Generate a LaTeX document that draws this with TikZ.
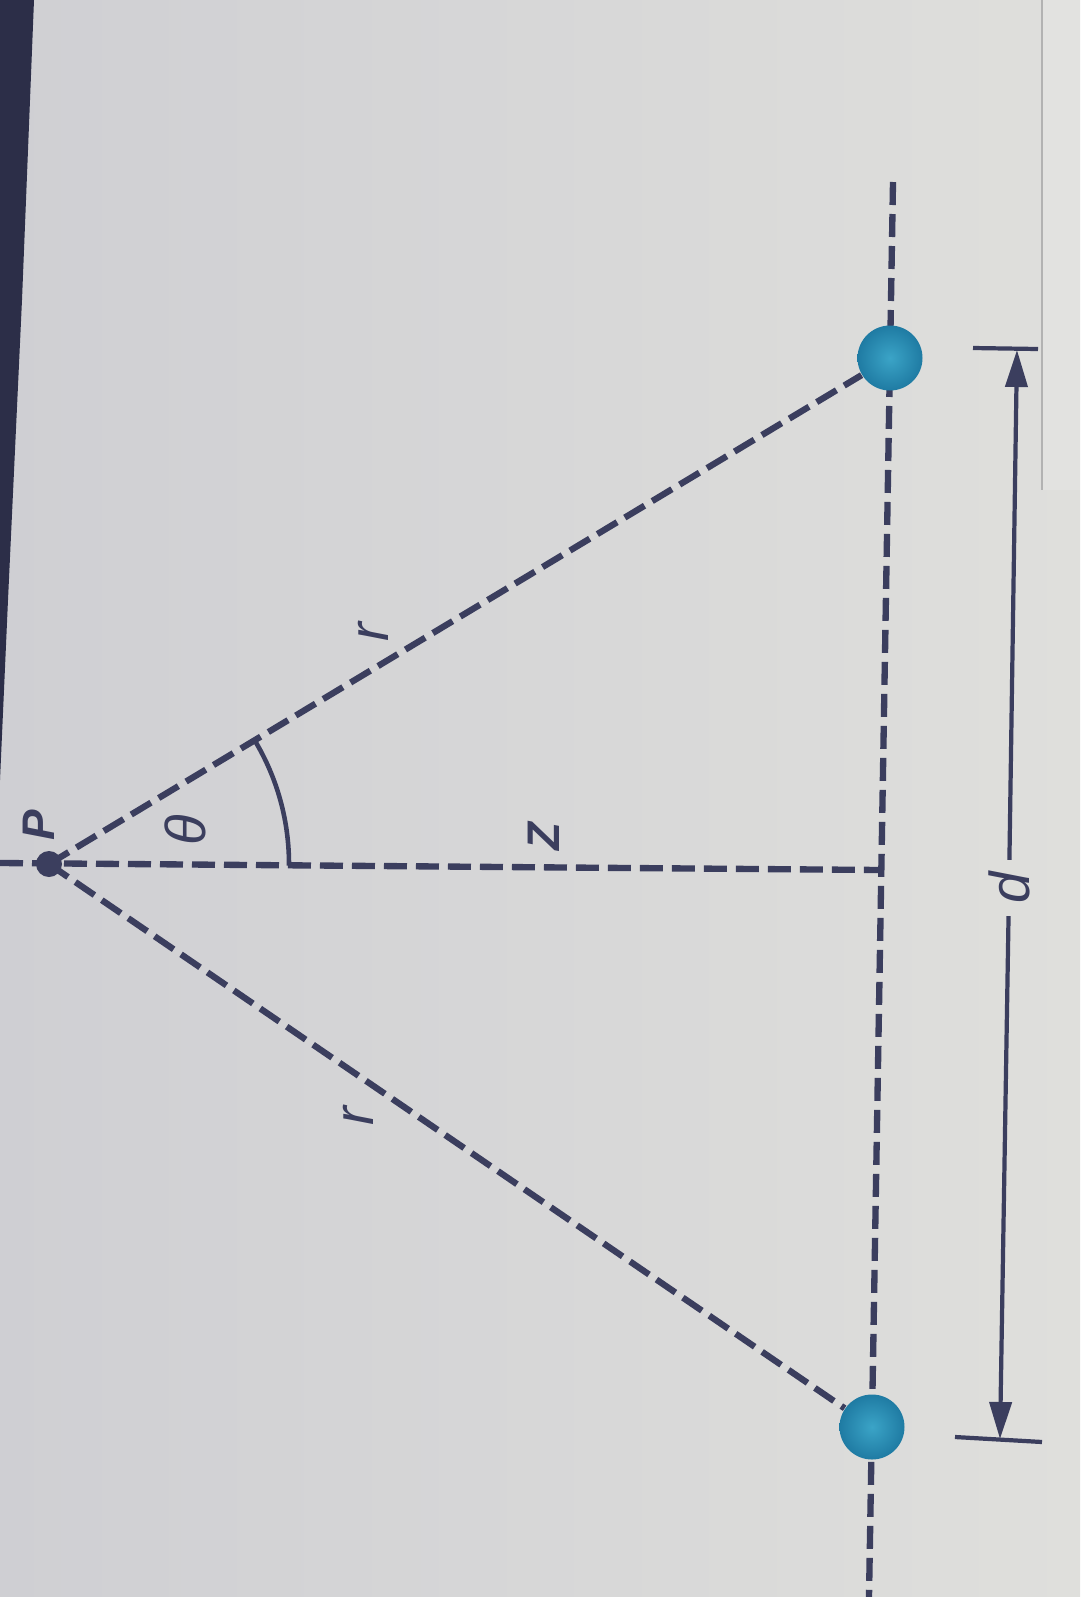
\documentclass[tikz,border=0pt]{standalone}
\usepackage{fontspec}
\setmainfont{Liberation Sans}
\usetikzlibrary{arrows.meta}

\definecolor{inkline}{HTML}{3B3E5E}
\definecolor{bezel}{HTML}{2C2E48}
\definecolor{screenL}{HTML}{CFCFD3}
\definecolor{screenR}{HTML}{DFDFDC}
\definecolor{ballin}{HTML}{3BA4C7}
\definecolor{ballout}{HTML}{1F7BA3}

\pgfdeclarelayer{screen}
\pgfdeclarelayer{lines}
\pgfsetlayers{screen,lines,main}

\tikzset{
  dashline/.style={inkline, line width=1.8pt, dash pattern=on 2.3mm off 0.9mm},
  dimline/.style={inkline, line width=1.2pt},
  ball/.style={circle, minimum size=6.5mm, inner sep=0pt, shading=radial,
    inner color=ballin, outer color=ballout},
  lbl/.style={inkline, rotate=90, font=\fontsize{16}{18}\selectfont\itshape},
  smalllbl/.style={lbl, font=\fontsize{13}{15}\selectfont\bfseries\itshape}
}

\begin{document}
\begin{tikzpicture}[x=0.1mm, y=-0.1mm]
    \useasboundingbox (0,0) rectangle (1080,1597);

    % Screen and bezel
    \begin{pgfonlayer}{screen}
    \shade[left color=screenL, right color=screenR] (0,0) rectangle (1080,1597);
    \fill[white, opacity=0.12] (1042,0) rectangle (1080,490);
    \draw[gray!60, line width=0.3pt] (1042,0) -- (1042,490);
    \fill[bezel] (0,0) -- (34,0) -- (22,300) -- (8,600) -- (0,780) -- cycle;
    \end{pgfonlayer}

    % Point P and the two masses
    \coordinate (P) at (49,864);
    \node[ball] (upper) at (890,358) {};
    \node[ball] (lower) at (872,1427) {};

    % Axis and line through the masses
    \coordinate (axisL) at (0,863);
    \coordinate (axisR) at (882,870);
    \coordinate (vtop) at (893,182);
    \coordinate (vbot) at (869,1597);

    \begin{pgfonlayer}{lines}
    \draw[dashline] (axisL) -- (axisR);
    \draw[dashline] (vtop) -- (vbot);
    \draw[dashline] (P) -- (upper);
    \draw[dashline] (P) -- (lower);
    \end{pgfonlayer}
    \fill[inkline] (P) circle (1.3mm);

    % Angle theta
    \draw[inkline, line width=1.3pt] (P) ++(0.4:240) arc[start angle=0.4, end angle=-31, radius=240];

    % Labels
    \node[smalllbl] (plab) at (39,825) {P};
    \node[lbl] (thlab) at (185,830) {θ};
    \node[lbl] (r1) at (373,632) {r};
    \node[lbl] (r2) at (358,1116) {r};
    \node[smalllbl] (zlab) at (544,837) {Z};

    % Dimension d
    \coordinate (dtop) at (1017,350);
    \coordinate (dbot) at (1000,1439);
    \coordinate (tickTL) at (973,348);
    \coordinate (tickTR) at (1038,349);
    \coordinate (tickBL) at (955,1437);
    \coordinate (tickBR) at (1042,1442);
    \node[lbl] (dlab) at (1009,888) {d};
    \draw[dimline, -{Triangle[length=3.7mm, width=2.2mm]}] (dlab) -- (dtop);
    \draw[dimline, -{Triangle[length=3.7mm, width=2.2mm]}] (dlab) -- (dbot);
    \draw[dimline] (tickTL) -- (tickTR);
    \draw[dimline] (tickBL) -- (tickBR);

\end{tikzpicture}
\end{document}
